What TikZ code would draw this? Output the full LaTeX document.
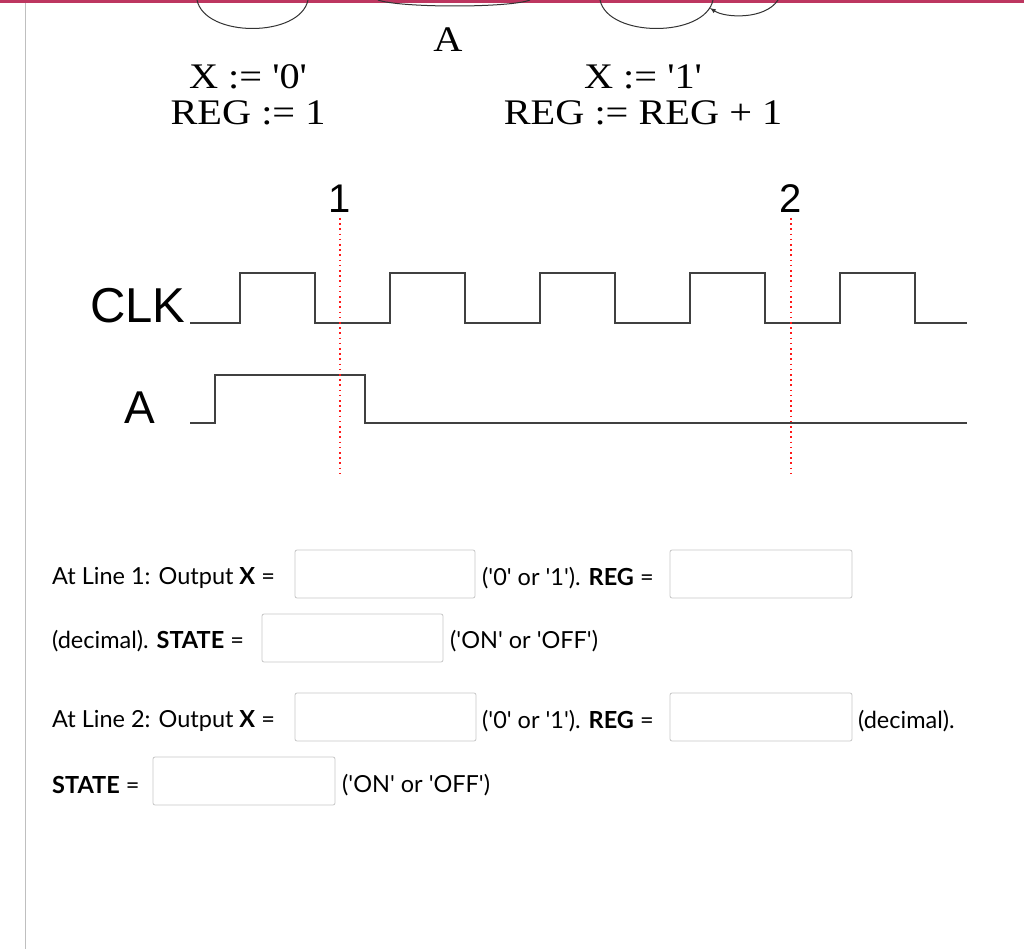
\documentclass[tikz,border=0pt]{standalone}
\usepackage{fontspec}
\setmainfont{Lato}
\newfontfamily\serf{Liberation Serif}
\newfontfamily\sansf{Liberation Sans}
\newcommand\qq{\textquotesingle}
\begin{document}
\begin{tikzpicture}[x=1pt,y=-1pt,
  sig/.style={line width=1.4pt,draw=black!75},
  redmark/.style={red!90,line width=1.6pt,dash pattern=on 1.6pt off 3.6pt},
  box/.style={draw=black!22,rounded corners=2pt,line width=0.8pt},
  ftxt/.style={anchor=west,font=\fontsize{23.5}{26}\selectfont,inner sep=0pt},
  ser/.style={font=\serf\fontsize{36}{38}\selectfont,xscale=1.12,transform shape,inner sep=0pt}]
\useasboundingbox (0,0) rectangle (1024,949);
\fill[white] (0,0) rectangle (1024,949);
\draw[black!25,line width=0.8pt] (25,3) -- (25,949);
\fill[magenta!60!red!75!black] (0,0) rectangle (1024,3);
% state diagram fragments
\draw[black!80,line width=1pt] (197,0) .. controls (205,38) and (300,38) .. (308,0);
\draw[black!80,line width=1pt] (378,0) .. controls (400,8) and (510,8) .. (530,0);
\draw[black!80,line width=1pt] (600,0) .. controls (608,38) and (705,38) .. (713,0);
\coordinate (lp) at (778,0);
\coordinate (lt) at (710,8);
\draw[black!80,line width=1pt,-latex] (lp) .. controls (765,20) and (725,18) .. (lt);
\node[ser] (tA) at (448,40) {A};
\node[ser] (t1) at (248,77) {X := '0'};
\node[ser] (t2) at (248,113) {REG := 1};
\node[ser] (t3) at (643,77) {X := '1'};
\node[ser] (t4) at (643,113) {REG := REG + 1};
% timing
\node[font=\sansf\fontsize{49}{49}\selectfont,inner sep=0pt] (clk) at (138,306) {CLK};
\node[font=\sansf\fontsize{46}{46}\selectfont,inner sep=0pt] (sa) at (140,408) {A};
\node[font=\sansf\fontsize{40}{40}\selectfont,inner sep=0pt] (n1) at (340,199) {1};
\node[font=\sansf\fontsize{40}{40}\selectfont,inner sep=0pt] (n2) at (791,199) {2};
\draw[sig] (190,323) -- (240,323) -- (240,273) -- (315,273) -- (315,323)
  -- (390,323) -- (390,273) -- (465,273) -- (465,323)
  -- (540,323) -- (540,273) -- (615,273) -- (615,323)
  -- (690,323) -- (690,273) -- (765,273) -- (765,323)
  -- (840,323) -- (840,273) -- (915,273) -- (915,323) -- (967,323);
\draw[sig] (190,423) -- (215,423) -- (215,375) -- (365,375) -- (365,423) -- (967,423);
\draw[redmark] (n1.south |- 0,218) -- (n1.south |- 0,478);
\draw[redmark] (n2.south |- 0,218) -- (n2.south |- 0,478);
% form
\node[ftxt] (r1a) at (52,578) {At Line 1: Output \textbf{X} =};
\draw[box] (295,550) rectangle (475,598);
\node[ftxt] (r1b) at (482,578) {(\qq0\qq{} or \qq1\qq). \textbf{REG} =};
\draw[box] (670,550) rectangle (852,598);
\node[ftxt] (r2a) at (52,641) {(decimal). \textbf{STATE} =};
\draw[box] (262,614) rectangle (443,662);
\node[ftxt] (r2b) at (450,641) {(\qq ON\qq{} or \qq OFF\qq)};
\node[ftxt] (r3a) at (52,721) {At Line 2: Output \textbf{X} =};
\draw[box] (295,693) rectangle (476,741);
\node[ftxt] (r3b) at (482,721) {(\qq0\qq{} or \qq1\qq). \textbf{REG} =};
\draw[box] (670,693) rectangle (852,741);
\node[ftxt] (r3c) at (858,721) {(decimal).};
\node[ftxt] (r4a) at (52,785) {\textbf{STATE} =};
\draw[box] (153,757) rectangle (335,805);
\node[ftxt] (r4b) at (342,785) {(\qq ON\qq{} or \qq OFF\qq)};
\end{tikzpicture}
\end{document}
